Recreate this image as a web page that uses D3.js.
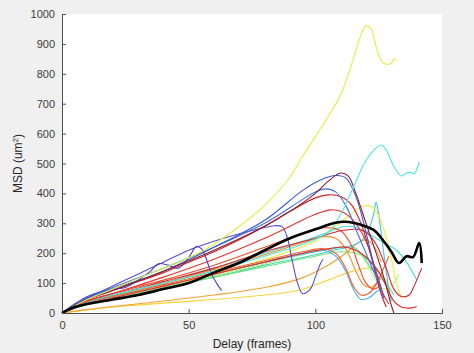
<!DOCTYPE html>
<html>
<head>
<meta charset="utf-8">
<script src="https://cdn.jsdelivr.net/npm/d3@7"></script>
<style>
  body { margin: 0; background: #f0f0f0; }
  svg { display: block; font-family: "Liberation Sans", Arial, sans-serif; }
</style>
</head>
<body>
<svg id="msd" width="474" height="353"></svg>
<script>
// tick labels
var xTicks = [0, 50, 100, 150];
var yTicks = [0, 100, 200, 300, 400, 500, 600, 700, 800, 900, 1000];

// individual tracks, [delay, msd] pairs
var trackYellowGreen = [[0,0],[10,45],[20,80],[30,115],[40,150],[50,185],[55,205],[60,230],[70,290],[80,360],[90,455],[95,525],[100,590],[110,730],[115,850],[118,930],[120,960],[122,950],[124,890],[126,845],[128,832],[130,836],[131,850],[132,842]];
var trackCyanHigh = [[0,0],[10,35],[20,60],[40,100],[60,140],[80,190],[95,230],[105,270],[110,330],[115,420],[120,510],[124,552],[126,562],[128,545],[131,490],[134,458],[136,468],[138,470],[139,465],[141,505]];
var trackMaroon = [[0,0],[10,45],[20,75],[40,140],[60,210],[80,290],[90,340],[100,400],[105,440],[110,468],[113,458],[116,400],[120,300],[124,200],[127,120],[130,25],[131,0]];
var trackBlue = [[0,0],[10,50],[20,80],[40,140],[60,220],[80,310],[95,410],[102,445],[108,460],[112,452],[116,390],[120,270],[124,130],[127,50]];
var trackBlue2 = [[0,0],[10,50],[20,85],[40,150],[60,220],[80,300],[95,380],[100,405],[104,415],[108,405],[112,360],[116,280],[120,200],[124,120],[126,80]];
var trackBump = [[0,0],[5,30],[10,55],[15,70],[20,80],[25,85],[30,110],[35,140],[38,165],[42,160],[46,150],[50,185],[53,222],[55,215],[57,180],[59,130],[61,100],[63,75]];
var trackDip = [[0,0],[10,50],[20,90],[30,130],[40,170],[50,210],[60,240],[70,265],[78,282],[84,292],[87,288],[89,250],[91,170],[93,100],[95,65],[98,80],[100,120],[102,165],[103,180]];
var trackRed1 = [[0,0],[10,45],[20,75],[30,105],[40,135],[50,170],[60,205],[70,245],[80,290],[90,340],[100,385],[105,395],[110,390],[114,365],[118,300],[122,190],[125,90],[127,40],[128,20]];
var trackRed2 = [[0,0],[10,40],[20,65],[40,120],[60,180],[80,250],[90,290],[100,330],[106,345],[110,340],[115,310],[120,240],[124,140],[127,60],[129,30]];
var trackRed3 = [[0,0],[10,35],[20,60],[40,105],[60,150],[80,205],[100,250],[110,275],[116,280],[120,270],[124,230],[128,150],[131,80],[134,55],[137,60],[139,90],[141,130],[142,150]];
var trackRed4 = [[0,0],[10,30],[20,50],[40,90],[60,130],[80,170],[95,200],[105,215],[112,220],[118,200],[124,150],[128,90],[131,40],[134,20],[138,17],[140,22]];
var trackOrangeRed = [[0,0],[10,35],[20,55],[40,95],[60,135],[80,175],[95,205],[103,215],[108,200],[112,150],[115,90],[118,60],[121,65],[124,95],[127,150],[129,190]];
var trackOrangeRed2 = [[0,0],[10,40],[20,65],[40,110],[60,160],[80,220],[95,265],[104,285],[110,275],[114,230],[117,160],[120,100],[123,80],[126,95]];
var trackSky = [[0,0],[10,35],[20,55],[40,90],[60,130],[80,170],[95,200],[103,210],[108,190],[112,140],[115,80],[118,45],[121,50],[124,70],[126,80]];
var trackTeal = [[0,0],[10,30],[20,50],[40,85],[60,120],[80,160],[100,195],[110,215],[115,220],[118,200],[122,150],[126,110]];
var trackCyanMid = [[0,0],[10,40],[20,60],[40,100],[60,150],[80,200],[95,240],[105,270],[112,290],[118,280],[124,250],[128,230],[132,210],[136,170],[140,110]];
var trackCyanSpike = [[0,0],[10,30],[20,50],[40,90],[60,130],[80,170],[100,205],[110,220],[116,230],[120,260],[123,330],[124,370],[125,330],[127,200],[129,80],[130,40]];
var trackYellow = [[0,0],[10,30],[20,50],[40,90],[60,130],[80,180],[100,240],[108,290],[114,330],[118,355],[121,360],[124,340],[127,280],[130,180],[132,100],[134,50]];
var trackYellowLow = [[0,0],[10,10],[20,20],[40,33],[60,45],[80,60],[94,77],[105,110],[115,140],[122,150],[126,130],[129,90]];
var trackOrangeLow = [[0,0],[10,12],[20,22],[40,40],[60,60],[80,85],[94,115],[105,160],[112,200],[117,235],[120,245],[123,225],[126,170]];
var trackOrange = [[0,0],[10,35],[20,60],[40,100],[60,145],[80,195],[95,235],[103,255],[108,250],[112,215],[116,140],[119,95],[122,85],[125,110]];
var trackLightGreen = [[0,0],[10,35],[20,55],[40,90],[60,125],[80,165],[100,205],[110,220],[116,210],[120,170],[124,110],[127,80],[130,90],[133,130]];
var trackGreen = [[0,0],[10,30],[20,50],[40,85],[60,120],[80,155],[100,190],[110,205],[118,195],[124,150],[128,100],[131,60]];
var meanTrack = [[0,0],[5,20],[10,30],[20,45],[30,60],[40,80],[50,100],[60,135],[70,168],[80,210],[90,250],[100,280],[108,302],[112,305],[118,295],[123,278],[127,240],[130,205],[133,167],[136,190],[138.6,187],[141,234],[142,167]];

var tracks = [trackYellowLow, trackOrangeLow, trackTeal, trackGreen, trackLightGreen, trackSky, trackCyanMid, trackCyanSpike,
  trackYellow, trackOrange, trackOrangeRed, trackOrangeRed2, trackRed4, trackRed3, trackRed2, trackRed1,
  trackDip, trackBump, trackBlue2, trackBlue, trackMaroon, trackCyanHigh, trackYellowGreen];
var trackColors = ["#f7d43a", "#f5a030", "#3ad6c0", "#72e07a", "#b4f070", "#44b0f0", "#46dcd8", "#3ec8e8",
  "#f2ec3c", "#f58a2a", "#f2602a", "#ee4a26", "#e0262a", "#d8242c", "#e8302e", "#d01e24",
  "#5a4ad0", "#4640c4", "#4a6ee0", "#3a5ad8", "#8a1e30", "#48e8e0", "#d8f440"];

var svg = d3.select("#msd"),
  margin = {top: 14, right: 32, bottom: 40, left: 62},
  width = +svg.attr("width") - margin.left - margin.right,
  height = +svg.attr("height") - margin.top - margin.bottom,
  g = svg.append("g").attr("transform", "translate(" + margin.left + "," + margin.top + ")");

var x = d3.scaleLinear().domain([0, 150]).range([0, width]);
var y = d3.scaleLinear().domain([0, 1000]).range([height, 0]);

// white axes area
g.append("rect")
  .attr("width", width)
  .attr("height", height)
  .style("fill", "#fff");

var line = d3.line()
  .x(function(d) { return x(d[0]); })
  .y(function(d) { return y(d[1]); })
  .curve(d3.curveCatmullRom.alpha(0.5));

var plot = g.append("g");

plot.selectAll("path.track")
  .data(tracks)
  .enter().append("path")
  .attr("class", "track")
  .attr("d", line)
  .style("fill", "none")
  .style("stroke", function(d, i) { return trackColors[i]; })
  .style("stroke-width", 1.1);

plot.append("path")
  .datum(meanTrack)
  .attr("d", line)
  .style("fill", "none")
  .style("stroke", "#000")
  .style("stroke-width", 2.6);

// MATLAB style axes: ticks pointing in
var xAxis = d3.axisBottom(x).tickValues(xTicks).tickFormat(d3.format("d"))
  .tickSizeInner(-4).tickSizeOuter(-4).tickPadding(8);
var yAxis = d3.axisLeft(y).tickValues(yTicks).tickFormat(d3.format("d"))
  .tickSizeInner(-4).tickSizeOuter(-4).tickPadding(7);

var gx = g.append("g")
  .attr("transform", "translate(0," + height + ")")
  .call(xAxis);
var gy = g.append("g").call(yAxis);

[gx, gy].forEach(function(a) {
  a.select(".domain").style("stroke", "#4d4d4d");
  a.selectAll(".tick line").style("stroke", "#4d4d4d");
  a.selectAll(".tick text")
    .style("fill", "#3c3c3c")
    .style("font-size", "11px");
});

// axis labels
g.append("text")
  .attr("x", width / 2)
  .attr("y", height + 35)
  .attr("text-anchor", "middle")
  .style("font-size", "12px")
  .style("fill", "#262626")
  .text("Delay (frames)");

var yl = svg.append("text")
  .attr("transform", "translate(22," + (margin.top + height / 2) + ") rotate(-90)")
  .attr("text-anchor", "middle")
  .style("font-size", "12px")
  .style("fill", "#262626");
yl.append("tspan").text("MSD (um");
yl.append("tspan").attr("dy", -4).style("font-size", "8px").text("2");
yl.append("tspan").attr("dy", 4).text(")");
</script>
</body>
</html>
